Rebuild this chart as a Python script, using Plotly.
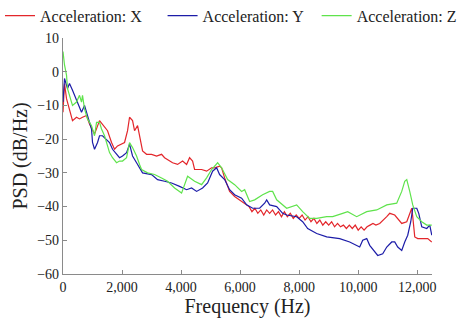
import plotly.graph_objects as go

# Frequency (Hz) and PSD (dB/Hz)
fx = [0, 51, 119, 220, 322, 458, 559, 661, 797, 898, 1000, 1068, 1237, 1339, 1509, 1644, 1746, 1848,
      1983, 2085, 2187, 2254, 2356, 2424, 2526, 2593, 2695, 2831, 3000, 3170, 3339, 3441, 3610, 3712,
      3882, 4051, 4187, 4288, 4390, 4458, 4695, 4865, 5034, 5136, 5305, 5373, 5475, 5644, 5814, 6051,
      6200, 6300, 6400, 6500, 6600, 6700, 6800, 6900, 7000, 7100, 7200, 7300, 7400, 7500, 7600, 7700,
      7800, 7900, 8000, 8100, 8200, 8300, 8400, 8500, 8600, 8700, 8800, 8900, 9000, 9100, 9200, 9300,
      9400, 9500, 9600, 9700, 9800, 9900, 10000, 10100, 10200, 10300, 10400, 10500, 10600, 10729,
      10967, 11068, 11237, 11339, 11475, 11645, 11746, 11814, 11848, 11916, 12017, 12187, 12356, 12492]
px = [-12, -3.5, -8, -11, -14.5, -13.5, -14, -13.5, -13, -15.5, -17.5, -18.5, -14.5, -15.5, -17.5, -21,
      -23, -22, -21.5, -21, -17.5, -13.5, -14.5, -17.5, -16, -19.5, -23.5, -24.5, -24.5, -25, -24.5,
      -25.5, -26.5, -27, -27.5, -26.5, -27.5, -25.5, -26.5, -29, -29, -29.5, -28.5, -28.5, -28, -28.5,
      -31.5, -35.5, -37, -38.5,
      -39.5, -40, -41.5, -40.5, -42, -41, -42.5, -41, -42, -41, -42.5, -41.5, -43, -41.5, -43, -42,
      -43.5, -42.5, -43.5, -42.5, -44, -43, -44.5, -43.5, -45, -44, -45.5, -44.5, -45.5, -44.5, -46, -45,
      -46, -45.5, -46.5, -45.5, -46.5, -45.5, -47, -46, -47, -46, -45.5, -45, -45.5, -45,
      -43, -42, -42.5, -43.5, -45, -44.5, -42, -40.5, -43, -49, -49.5, -49.5, -49.5, -50.5]

fy = [0, 51, 153, 220, 322, 390, 492, 627, 729, 831, 966, 1000, 1068, 1170, 1237, 1339, 1475, 1576,
      1678, 1814, 1915, 2017, 2153, 2254, 2356, 2492, 2695, 3000, 3204, 3441, 3678, 3949, 4187, 4356,
      4526, 4729, 4899, 5068, 5204, 5305, 5475, 5644, 5814, 6051, 6221, 6424, 6661, 6831, 6899, 7000,
      7238, 7441, 7577, 7916, 8119, 8289, 8594, 8933, 9373, 9712, 9949, 10051, 10153, 10289, 10390,
      10560, 10662, 10831, 10967, 11136, 11237, 11339, 11475, 11577, 11678, 11780, 11848, 11984, 12051,
      12153, 12322, 12424, 12492]
py = [-9, -2, -5, -3.5, -5.5, -7, -9, -12, -10, -13, -17, -21, -23, -21, -19, -19, -20, -21, -23,
      -24.5, -25.5, -25, -24, -21.5, -25, -27, -30, -30.5, -32, -32.5, -33, -34, -35, -34.5, -35.5,
      -34.5, -33, -29.5, -28.5, -30.5, -32, -35, -36.5, -37.5, -39.5, -40.5, -40.5, -39, -38, -39.5,
      -40, -42, -42.5, -43, -44.5, -46.5, -48, -49, -49.5, -50.5, -51.5, -52, -50, -49.5, -51.5, -53.5,
      -54.5, -54, -52, -50.5, -50.5, -52, -53, -50.5, -48.5, -44.5, -40.5, -40.5, -42, -46, -46.5,
      -45.5, -48.5]

fz = [0, 51, 119, 153, 288, 322, 458, 559, 627, 661, 729, 831, 966, 1068, 1136, 1237, 1305, 1407,
      1509, 1576, 1678, 1814, 1915, 2017, 2153, 2254, 2356, 2492, 2593, 2661, 2865, 3102, 3339, 3543,
      3780, 4017, 4221, 4458, 4695, 4865, 5034, 5136, 5238, 5373, 5577, 5814, 6051, 6153, 6322, 6492,
      6661, 6763, 7000, 7102, 7238, 7441, 7577, 7916, 8119, 8356, 8594, 8933, 9136, 9475, 9644, 9949,
      10289, 10628, 10967, 11305, 11475, 11577, 11645, 11746, 11848, 11984, 12153, 12322, 12492]
pz = [6, 2, -1, -5, -9, -10, -9, -7, -9, -7, -11, -14, -16, -19, -15, -15, -17, -19, -22, -24, -25.5,
      -27, -26.5, -26.5, -25.5, -21, -22.5, -25, -27.5, -29, -30, -30.5, -31.5, -32.5, -34.5, -36,
      -31, -32.5, -33.5, -31.5, -29, -28, -27, -28.5, -32, -33.5, -35.5, -35, -38.5, -38, -37, -36.5,
      -35.5, -35.5, -38, -39.5, -40.5, -39.5, -41.5, -43.5, -43.5, -43, -43, -42, -41.5, -43, -41.5,
      -41, -39.5, -39, -35.5, -32.5, -32, -35.5, -39.5, -43, -44.5, -45.5, -45.5]

names = ["Acceleration: X", "Acceleration: Y", "Acceleration: Z"]
colors = ["#e3262b", "#1c1ca8", "#5fe34c"]
legend_ids = ["legend", "legend2", "legend3"]
legend_x = [0.0, 0.343, 0.668]

fig = go.Figure()
for f, p, n, c, lg in zip([fx, fy, fz], [px, py, pz], names, colors, legend_ids):
    fig.add_trace(go.Scatter(x=f, y=p, mode="lines", name=n, legend=lg,
                             line=dict(color=c, width=1.2)))

serif = "Liberation Serif, DejaVu Serif, serif"
legend_style = dict(orientation="h", xref="container", yref="container", y=0.952,
                    xanchor="left", yanchor="middle", font=dict(size=16, family=serif),
                    itemwidth=30, bgcolor="rgba(0,0,0,0)")
fig.update_layout(
    width=474, height=329,
    margin=dict(l=63, r=42, t=38, b=55, autoexpand=False),
    paper_bgcolor="white", plot_bgcolor="white",
    font=dict(family=serif, color="#222", size=14),
    showlegend=True,
    legend=dict(legend_style, x=legend_x[0]),
    legend2=dict(legend_style, x=legend_x[1]),
    legend3=dict(legend_style, x=legend_x[2]),
    xaxis=dict(range=[0, 12500], tickvals=[0, 2000, 4000, 6000, 8000, 10000, 12000],
               ticktext=["0", "2,000", "4,000", "6,000", "8,000", "10,000", "12,000"],
               showgrid=False, zeroline=False, showline=True, linecolor="#8a8a8a", linewidth=1.3,
               ticks="inside", ticklen=4, tickcolor="#8a8a8a",
               tickfont=dict(size=14, family=serif),
               title=dict(text="Frequency (Hz)", font=dict(size=20, family=serif), standoff=2)),
    yaxis=dict(range=[-60, 10], tickvals=[-60, -50, -40, -30, -20, -10, 0, 10],
               showgrid=False, zeroline=False, showline=True, linecolor="#8a8a8a", linewidth=1.3,
               ticks="inside", ticklen=4, tickcolor="#8a8a8a",
               tickfont=dict(size=14, family=serif),
               title=dict(text="PSD (dB/Hz)", font=dict(size=20, family=serif), standoff=4)),
)

fig.write_html("out.html")
